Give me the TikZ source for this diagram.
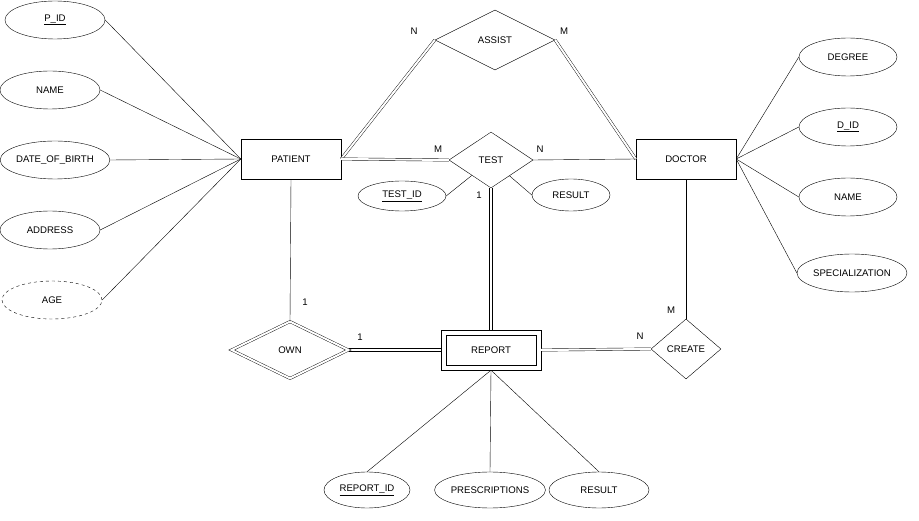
\documentclass[tikz,border=0pt]{standalone}
\usepackage{fontspec}
\setmainfont{Liberation Sans}
\usetikzlibrary{shapes.geometric}
\begin{document}
\begin{tikzpicture}[x=1pt,y=-1pt,
  every node/.style={font=\fontsize{9.6}{11}\selectfont},
  attr/.style={draw,ellipse,minimum width=100pt,minimum height=38pt,inner sep=0pt},
  ent/.style={draw,rectangle,minimum width=100pt,minimum height=40pt},
  rel/.style={draw,diamond,aspect=2,inner sep=0pt},
  dbl/.style={double,double distance=2pt},
  lbl/.style={font=\fontsize{9.6}{11}\selectfont}]
\useasboundingbox (0,0) rectangle (919,521);
% entities
\node[ent] (patient) at (291,159) {PATIENT};
\node[ent] (doctor) at (686,159) {DOCTOR};
\node[ent] (report) at (491,350) {REPORT};
\draw ([shift={(5,5)}]report.north west) rectangle ([shift={(-5,-5)}]report.south east);
% relationships
\node[rel,minimum width=120pt,minimum height=60pt] (assist) at (495,40) {ASSIST};
\node[rel,minimum width=84pt,minimum height=56pt] (test) at (491,160) {TEST};
\node[rel,double,double distance=2pt,minimum width=117pt,minimum height=57pt] (own) at (290,350) {OWN};
\node[rel,aspect=1.2,minimum width=70pt,minimum height=60pt] (create) at (686,349) {CREATE};
% patient attributes
\node[attr] (pid) at (55,20) {\underline{P\_ID}};
\node[attr] (pname) at (50,90) {NAME};
\node[attr,minimum width=108pt] (dob) at (55,160) {DATE\_OF\_BIRTH};
\node[attr] (addr) at (50,230) {ADDRESS};
\node[attr,dashed] (age) at (52,300) {AGE};
% doctor attributes
\node[attr,minimum width=98pt] (degree) at (848,57) {DEGREE};
\node[attr,minimum width=98pt] (did) at (848,127) {\underline{D\_ID}};
\node[attr,minimum width=98pt] (dname) at (848,197) {NAME};
\node[attr,minimum width=106pt] (spec) at (852,273) {SPECIALIZATION};
% test attributes
\node[attr,minimum width=88pt,minimum height=30pt] (testid) at (402,196) {\underline{TEST\_ID}};
\node[attr,minimum width=78pt,minimum height=32pt] (tres) at (571,195) {RESULT};
% report attributes
\node[attr,minimum width=86pt,minimum height=36pt] (rid) at (367,490) {\underline{REPORT\_ID}};
\node[attr,minimum width=104pt,minimum height=36pt] (presc) at (490,490) {PRESCRIPTIONS};
\node[attr,minimum width=100pt,minimum height=36pt] (rres) at (599,490) {RESULT};
% connectors
\foreach \a in {pid,pname,dob,addr,age} \draw (\a.east) -- (patient.west);
\foreach \a in {degree,did,dname,spec} \draw (\a.west) -- (doctor.east);
\draw[dbl] (patient.east) -- (assist.west);
\draw[dbl] (assist.east) -- (doctor.west);
\draw[dbl] (patient.east) -- (test.west);
\draw (test.east) -- (doctor.west);
\draw (test) -- (testid.east);
\draw (test) -- (tres.west);
\draw ([xshift=-1.5pt]test.south) -- ([xshift=-1.5pt]report.north);
\draw ([xshift=1.5pt]test.south) -- ([xshift=1.5pt]report.north);
\draw (patient.south) -- (own.north);
\draw ([yshift=-1.5pt]own.east) -- ([yshift=-1.5pt]report.west);
\draw ([yshift=1.5pt]own.east) -- ([yshift=1.5pt]report.west);
\draw[dbl] (report.east) -- (create.west);
\draw (doctor.south) -- (create.north);
\draw (report.south) -- (rid.north);
\draw (report.south) -- (presc.north);
\draw (report.south) -- (rres.north);
% cardinalities
\node[lbl] (c1) at (414,31) {N};
\node[lbl] (c2) at (564,31) {M};
\node[lbl] (c3) at (438,149) {M};
\node[lbl] (c4) at (540,149) {N};
\node[lbl] (c5) at (479,195) {1};
\node[lbl] (c6) at (305,302) {1};
\node[lbl] (c7) at (360,337) {1};
\node[lbl] (c8) at (671,310) {M};
\node[lbl] (c9) at (640,336) {N};
\end{tikzpicture}
\end{document}
